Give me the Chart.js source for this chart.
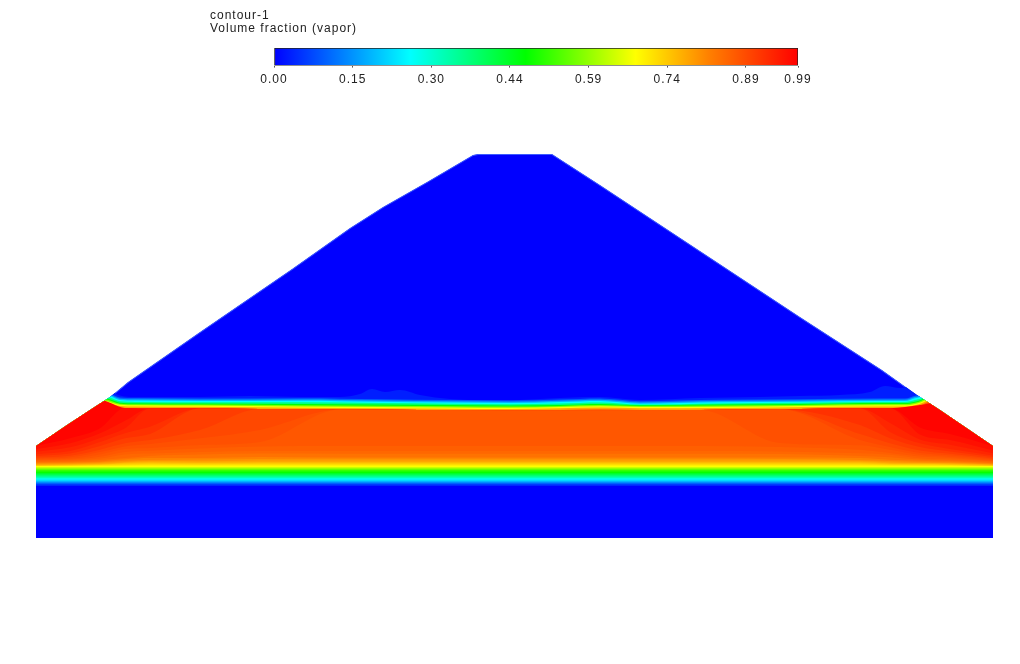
<!DOCTYPE html>
<html>
<head>
<meta charset="utf-8">
<title>contour-1</title>
<script src="https://cdn.jsdelivr.net/npm/chart.js@4"></script>
<style>
  html, body { margin: 0; background: #fff; overflow: hidden; }
  canvas { position: absolute; }
  #field { left: 0; top: 0; }
  #bar { left: 210px; top: 0; }
</style>
</head>
<body>
<canvas id="field" width="1020" height="664"></canvas>
<canvas id="bar" width="620" height="92"></canvas>
<script>
// colour bar
const tickValues = [0, 0.1486, 0.2972, 0.4458, 0.5944, 0.743, 0.8916, 0.99];
const tickLabels = ["0.00", "0.15", "0.30", "0.44", "0.59", "0.74", "0.89", "0.99"];
const stopFractions = [0, 0.26, 0.48, 0.69, 0.83, 1];
const stopColors = [[0, 0, 255], [0, 255, 255], [0, 255, 0], [255, 255, 0], [255, 128, 0], [255, 0, 0]];

// outline of the domain: distance along base, height above base
const outlineX = [0, 31, 57, 74, 92, 164, 256, 314, 347, 391, 437, 442, 516, 564, 664, 764, 846, 881, 904, 957];
const outlineY = [92, 113, 130, 141, 156, 206, 269, 310, 331, 356, 383, 384, 384, 353, 287, 221, 168, 143, 128, 92];

// faint vapor wisps above the interface
const wispX = [0, 69, 76, 82, 94, 164, 214, 264, 304, 324, 336, 349, 364, 384, 414, 464, 524, 564, 604, 664, 724, 764, 804, 834, 849, 864, 876, 889, 957];
const wispY = [146, 146, 146, 143, 141, 141, 142, 141, 141, 144, 149, 146, 148, 143, 139, 137.5, 140, 141, 138, 140, 141, 142, 143, 146, 152, 150, 152, 148, 146];

// upper interface contours
const upperX = [0, 64, 70, 76, 84, 99, 164, 264, 344, 414, 474, 524, 564, 604, 684, 764, 844, 869, 879, 885, 894, 957];
const upper10 = [156.5, 154.5, 147.5, 143.8, 140.5, 140, 139.5, 139.8, 138.8, 138, 137.5, 138.5, 139.5, 136.8, 138.2, 138.8, 139.5, 139.5, 142.2, 144, 152.5, 156.5];
const upper18 = [155.2, 153.2, 146.2, 142.5, 139.2, 138.7, 138.2, 138.5, 137.5, 136.7, 136.2, 137.2, 138.2, 135.5, 136.9, 137.5, 138.2, 138.2, 140.9, 142.7, 151.2, 155.2];
const upper26 = [154, 152, 145, 141.3, 138, 137.5, 137, 137.3, 136.3, 135.5, 135, 136, 137, 134.3, 135.7, 136.3, 137, 137, 139.7, 141.5, 150, 154];
const upper36 = [151, 148, 142.5, 139.7, 136.7, 136.1, 135.8, 135.7, 134.9, 134.3, 133.8, 134.5, 135.5, 133.5, 134.6, 135.2, 136, 136, 138, 139.8, 147, 151];
const upper47 = [148, 144, 140, 138, 135.3, 134.7, 134.5, 134, 133.5, 133, 132.5, 133, 134, 132.7, 133.5, 134, 135, 135, 136.3, 138, 144, 148];
const upper58 = [145.5, 141, 138.7, 136.7, 134.3, 133.7, 133.5, 132.8, 132.3, 131.8, 131.4, 132, 132.9, 131.9, 132.4, 133, 133.9, 133.9, 135.2, 136.9, 142, 145.5];
const upper68 = [143, 138, 137.3, 135.3, 133.3, 132.7, 132.5, 131.5, 131, 130.5, 130.3, 131, 131.7, 131, 131.2, 132, 132.7, 132.7, 134, 135.7, 140, 143];
const upper78 = [141.8, 136.8, 136.1, 134.1, 132.1, 131.5, 131.3, 130.3, 129.8, 129.3, 129.1, 129.8, 130.5, 129.8, 130, 130.8, 131.5, 131.5, 132.8, 134.5, 138.8, 141.8];
const upper87 = [140, 135, 134.3, 132.3, 130.3, 129.7, 129.5, 128.5, 128, 127.5, 127.3, 128, 128.7, 128, 128.2, 129, 129.7, 129.7, 131, 132.7, 137, 140];

// vapor layer contours, with the red pockets in both corners
const layerX = [0, 34, 64, 89, 114, 164, 224, 304, 464, 664, 744, 824, 854, 884, 914, 957];
const layer985 = [98, 123, 138, 130, 129.5, 129.4, 129, 128.4, 127.5, 128, 128.8, 129.4, 129.7, 133, 138, 98];
const layer970 = [92, 99.7, 109.7, 130, 129.5, 129.4, 129, 128.4, 127.5, 128, 128.8, 129.4, 129.7, 110.6, 104, 92];
const layer955 = [89, 94.7, 104.7, 117.2, 129.5, 129.4, 129, 128.4, 127.5, 128, 128.8, 129.4, 129.7, 103.4, 98, 87.5];
const layer940 = [86.3, 90.7, 100.1, 109.7, 129.5, 129.4, 129, 128.4, 127.5, 128, 128.8, 129.4, 115, 98.5, 93.3, 84.7];
const layer925 = [83.8, 87, 95.9, 104.7, 111.3, 129.4, 129, 128.4, 127.5, 128, 128.8, 129.4, 106, 94.7, 89, 82.5];
const layer910 = [82, 84.5, 92, 99.7, 104, 129.4, 129, 128.4, 127.5, 128, 128.8, 113, 99.7, 91, 86.5, 81];
const layer895 = [80.5, 82.3, 88.3, 94.7, 98, 108, 129, 128.4, 127.5, 128, 128.8, 104, 94.7, 87.5, 84.2, 79.5];
const layer885 = [79.5, 80.8, 86, 91.6, 94, 99.7, 108, 128.4, 127.5, 128, 128.8, 98, 91, 85, 82.7, 78.5];
const layer875 = [78.6, 79.5, 83.6, 89, 90, 93, 96, 128.4, 127.5, 128, 95, 92.7, 88.2, 83.2, 81.3, 77.4];
const layer865 = [77.9, 78.5, 81.2, 86, 87.2, 89.5, 91.5, 92, 92, 92, 91, 88.2, 85, 81.5, 80, 76.8];
const layer855 = [77.1, 77.5, 79.5, 83.6, 84.4, 86, 87, 87, 87, 87, 86.5, 84.7, 83.3, 79.8, 78.7, 76.5];
const layer840 = [76, 76.6, 78, 80, 82, 83.4, 84.4, 84.2, 84.2, 84.2, 84, 82, 80.7, 78.4, 77.5, 75.4];
const layer820 = [75.2, 75.7, 76.6, 78.7, 80, 80, 80.9, 80.6, 80.6, 80.6, 80.4, 80, 78.3, 77.3, 76.5, 74.7];
const layer800 = [74.5, 74.9, 75.7, 77.3, 78, 78.4, 78.9, 79.2, 79.2, 79.2, 79, 78, 77, 76.1, 75.5, 74.1];
const layer780 = [73.8, 74, 74.9, 76, 77, 76.8, 77.5, 77.6, 77.6, 77.6, 77.5, 77, 75.7, 75, 74.7, 73.6];
const layer760 = [73, 73.5, 74, 75.2, 76, 75.6, 76, 76, 76, 76, 76, 76, 74.7, 74.4, 74.2, 73];
const layer740 = [72.5, 73, 73.5, 74.4, 75, 74.7, 75, 75, 75, 75, 75, 75, 74, 73.8, 73.6, 72.5];
const layer720 = [72, 72.5, 73, 73.6, 74, 73.8, 74, 74, 74, 74, 74, 74, 73.3, 73.2, 73.1, 72];
const layer700 = [71.5, 72, 72.5, 72.8, 73, 72.9, 73, 73, 73, 73, 73, 73, 72.7, 72.6, 72.5, 71.5];

// lower interface is flat all the way across
const lowerX = [0, 957];
const lowerLevels = [0.68, 0.64, 0.6, 0.56, 0.52, 0.48, 0.44, 0.4, 0.36, 0.32, 0.28, 0.24, 0.2, 0.16, 0.12, 0.08, 0.04, 0];
const lowerHeights = [72, 71, 70, 69, 68, 66.5, 65, 63.7, 62.5, 61.3, 60, 58.7, 57.6, 56.6, 55.6, 54.6, 53.5, 52];

function levelColor(v) {
  const t = v / 0.99;
  let i = 0;
  while (i < stopFractions.length - 2 && t > stopFractions[i + 1]) i++;
  const f = (t - stopFractions[i]) / (stopFractions[i + 1] - stopFractions[i]);
  const a = stopColors[i], b = stopColors[i + 1];
  return "rgb(" + [0, 1, 2].map((k) => Math.round(a[k] + (b[k] - a[k]) * f)).join(",") + ")";
}

function pairUp(xs, ys) {
  return xs.map((x, i) => ({ x: x, y: ys[i] }));
}

// later layers paint over earlier ones, each one fills down to the base
const layers = [
  [0.03, wispX, wispY],
  [0.1, upperX, upper10],
  [0.18, upperX, upper18],
  [0.26, upperX, upper26],
  [0.36, upperX, upper36],
  [0.47, upperX, upper47],
  [0.58, upperX, upper58],
  [0.68, upperX, upper68],
  [0.78, upperX, upper78],
  [0.87, upperX, upper87],
  [0.985, layerX, layer985],
  [0.97, layerX, layer970],
  [0.955, layerX, layer955],
  [0.94, layerX, layer940],
  [0.925, layerX, layer925],
  [0.91, layerX, layer910],
  [0.895, layerX, layer895],
  [0.885, layerX, layer885],
  [0.875, layerX, layer875],
  [0.865, layerX, layer865],
  [0.855, layerX, layer855],
  [0.84, layerX, layer840],
  [0.82, layerX, layer820],
  [0.8, layerX, layer800],
  [0.78, layerX, layer780],
  [0.76, layerX, layer760],
  [0.74, layerX, layer740],
  [0.72, layerX, layer720],
  [0.7, layerX, layer700],
];
lowerLevels.forEach((v, i) => layers.push([v, lowerX, [lowerHeights[i], lowerHeights[i]]]));

const total = layers.length + 1;
const datasets = [
  {
    data: pairUp(outlineX, outlineY),
    backgroundColor: levelColor(0),
    borderColor: "rgb(60,90,255)",
    borderWidth: 2,
    fill: { value: 0 },
    pointRadius: 0,
    order: total,
  },
];
layers.forEach((l, i) => {
  datasets.push({
    data: pairUp(l[1], l[2]),
    backgroundColor: levelColor(l[0]),
    borderColor: "transparent",
    borderWidth: 0,
    fill: { value: 0 },
    cubicInterpolationMode: "monotone",
    pointRadius: 0,
    order: total - 1 - i,
  });
});

// keep all the contours inside the domain outline
const clipToOutline = {
  id: "clipToOutline",
  beforeDatasetsDraw(chart) {
    const ctx = chart.ctx, sx = chart.scales.x, sy = chart.scales.y;
    ctx.save();
    ctx.beginPath();
    ctx.moveTo(sx.getPixelForValue(outlineX[0]), sy.getPixelForValue(0));
    outlineX.forEach((x, i) => ctx.lineTo(sx.getPixelForValue(x), sy.getPixelForValue(outlineY[i])));
    ctx.lineTo(sx.getPixelForValue(outlineX[outlineX.length - 1]), sy.getPixelForValue(0));
    ctx.closePath();
    ctx.clip();
  },
  afterDatasetsDraw(chart) {
    chart.ctx.restore();
  },
};

new Chart(document.getElementById("field"), {
  type: "line",
  data: { datasets: datasets },
  plugins: [clipToOutline],
  options: {
    responsive: false,
    animation: false,
    layout: { padding: { left: 36, right: 27, top: 154, bottom: 126 } },
    plugins: { legend: { display: false }, tooltip: { enabled: false } },
    scales: {
      x: { type: "linear", display: false, min: 0, max: 957 },
      y: { type: "linear", display: false, min: 0, max: 384 },
    },
  },
});

function barGradient(context) {
  const chart = context.chart;
  if (!chart.chartArea) return levelColor(0);
  const g = chart.ctx.createLinearGradient(chart.chartArea.left, 0, chart.chartArea.right, 0);
  stopFractions.forEach((f, i) => g.addColorStop(f, "rgb(" + stopColors[i].join(",") + ")"));
  return g;
}

// the original text is small but widely spaced, resizing the canvas resets this
const wideLetters = {
  id: "wideLetters",
  beforeLayout(chart) {
    chart.ctx.letterSpacing = "1px";
  },
  beforeDraw(chart) {
    chart.ctx.letterSpacing = "1px";
  },
};

new Chart(document.getElementById("bar"), {
  type: "bar",
  data: {
    labels: ["Volume fraction (vapor)"],
    datasets: [
      {
        data: [[tickValues[0], tickValues[tickValues.length - 1]]],
        backgroundColor: barGradient,
        borderColor: "#222",
        borderWidth: 1,
        borderSkipped: false,
        barPercentage: 1,
        categoryPercentage: 1,
      },
    ],
  },
  plugins: [wideLetters],
  options: {
    indexAxis: "y",
    responsive: false,
    animation: false,
    layout: { padding: { right: 32, top: 9 } },
    plugins: {
      legend: { display: false },
      tooltip: { enabled: false },
      title: {
        display: true,
        text: ["contour-1", "Volume fraction (vapor)"],
        align: "start",
        color: "#222",
        font: { family: "Liberation Sans", size: 12, weight: "normal", lineHeight: 1.083 },
        padding: { top: 0, bottom: 13 },
      },
    },
    scales: {
      x: {
        min: 0,
        max: 0.99,
        afterBuildTicks(scale) {
          scale.ticks = tickValues.map((v) => ({ value: v }));
        },
        ticks: {
          autoSkip: false,
          maxRotation: 0,
          padding: 5,
          color: "#222",
          font: { family: "Liberation Sans", size: 12 },
          callback: (value, i) => tickLabels[i],
        },
        grid: { drawOnChartArea: false, tickLength: 2, color: "#555" },
        border: { display: false },
      },
      y: {
        display: true,
        ticks: { display: false },
        grid: { display: false },
        border: { display: false },
        afterFit(scale) {
          scale.width = 64;
        },
      },
    },
  },
});
</script>
</body>
</html>
